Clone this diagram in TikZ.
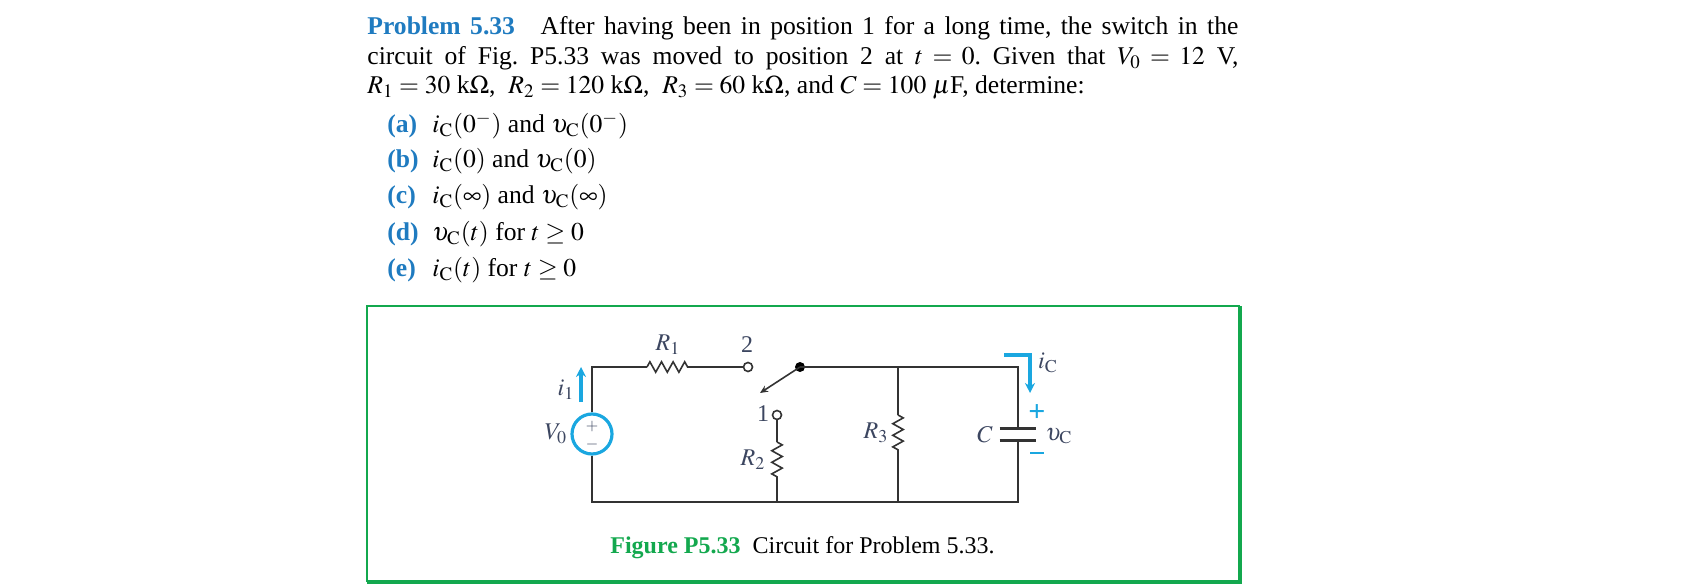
\documentclass[tikz,border=0pt]{standalone}
\usepackage{mathptmx}
\usepackage{fontspec}
\setmainfont{Liberation Serif}
\frenchspacing
\usetikzlibrary{decorations.pathmorphing}
\usetikzlibrary{arrows.meta}

\definecolor{probblue}{HTML}{1F7BC0}
\definecolor{figgreen}{HTML}{13A84E}
\definecolor{srccyan}{HTML}{1AA7E0}
\definecolor{wiregray}{HTML}{333333}
\definecolor{labelink}{HTML}{3C4660}

\tikzset{
  wire/.style={draw=wiregray, line width=0.8pt},
  resistor/.style={wire, decorate, decoration={zigzag, segment length=5.8pt, amplitude=2.6pt}},
  terminal/.style={circle, draw=wiregray, line width=0.8pt, fill=white, inner sep=0pt, minimum size=4.5pt},
  txtline/.style={anchor=base west, inner sep=0pt, font=\fontsize{12.8}{15}\selectfont},
  lbl/.style={inner sep=1pt, text=labelink, font=\fontsize{12}{14}\selectfont},
  polarity/.style={inner sep=0pt, text=srccyan, font=\bfseries\fontsize{15}{15}\selectfont},
  cyanarrow/.style={draw=srccyan, line width=1.6pt, -{Stealth[length=5pt,width=5pt]}},
}

\begin{document}
\begin{tikzpicture}[x=0.5pt, y=-0.5pt]
  \useasboundingbox (0,0) rectangle (1706,588);
  % problem text
  \node[txtline] (l1) at (367,35) {\makebox[435.5pt][s]{\textcolor{probblue}{\textbf{Problem 5.33}}\quad After having been in position 1 for a long time, the switch in the}};
  \node[txtline] (l2) at (367,65) {\makebox[435.5pt][s]{circuit of Fig. P5.33 was moved to position 2 at $t=0$. Given that $V_0=12$ V,}};
  \node[txtline] (l3) at (367,94) {$R_1=30$ k$\Omega$, \ $R_2=120$ k$\Omega$, \ $R_3=60$ k$\Omega$, and $C=100$ $\mu$F, determine:};
  \foreach \y/\lab/\txt in {133/a/{$i_{\mathrm{C}}(0^-)$ and $\upsilon_{\mathrm{C}}(0^-)$},
                            168/b/{$i_{\mathrm{C}}(0)$ and $\upsilon_{\mathrm{C}}(0)$},
                            204/c/{$i_{\mathrm{C}}(\infty)$ and $\upsilon_{\mathrm{C}}(\infty)$},
                            241/d/{$\upsilon_{\mathrm{C}}(t)$ for $t\geq 0$},
                            277/e/{$i_{\mathrm{C}}(t)$ for $t\geq 0$}} {
    \node[txtline, text=probblue] (item\lab) at (387,\y) {\textbf{(\lab)}};
    \node[txtline] (itemtxt\lab) at (432,\y) {\txt};
  }

  % figure frame
  \draw[figgreen, line width=1pt] (1240,306) -- (367,306) -- (367,582);
  \draw[figgreen, line width=1.6pt] (367,582) -- (1240,582) -- (1240,306);

  % circuit corners
  \coordinate (tl) at (592,367);
  \coordinate (bl) at (592,502);
  \coordinate (r1a) at (647,367);
  \coordinate (r1b) at (688,367);
  \coordinate (piv) at (800,367);
  \coordinate (tr3) at (898,367);
  \coordinate (tc) at (1018,367);
  \coordinate (r3a) at (898,415);
  \coordinate (r3b) at (898,453);
  \coordinate (br3) at (898,502);
  \coordinate (r2a) at (777,442);
  \coordinate (r2b) at (777,480);
  \coordinate (br2) at (777,502);
  \coordinate (bc) at (1018,502);
  \coordinate (armend) at (760,393);

  \node[circle, draw=srccyan, line width=1.6pt, minimum size=20pt, inner sep=0pt] (src) at (592,434) {};
  \node[inner sep=0pt, text=labelink, font=\fontsize{8}{9}\selectfont] at (592,426) {$+$};
  \node[inner sep=0pt, text=labelink, font=\fontsize{8}{9}\selectfont] at (592,444) {$-$};
  \node[terminal] (t2) at (748,367) {};
  \node[terminal] (t1) at (777,415) {};
  \node[circle, fill=black, inner sep=0pt, minimum size=5pt] (pdot) at (piv) {};
  \node[minimum width=18pt, minimum height=5.5pt, inner sep=0pt] (cap) at (1018,434.5) {};

  % wires
  \draw[wire] (src.north) -- (tl) -- (r1a);
  \draw[resistor] (r1a) -- (r1b);
  \draw[wire] (r1b) -- (t2.west);
  \draw[wire, -{Stealth[length=4pt,width=3.5pt]}] (pdot.center) -- (armend);
  \draw[wire] (pdot.center) -- (tc) -- (cap.north);
  \draw[wire] (tr3) -- (r3a);
  \draw[resistor] (r3a) -- (r3b);
  \draw[wire] (r3b) -- (br3);
  \draw[wire] (t1.south) -- (r2a);
  \draw[resistor] (r2a) -- (r2b);
  \draw[wire] (r2b) -- (br2);
  \draw[wire] (src.south) -- (bl) -- (bc) -- (cap.south);
  \draw[wire, line width=1.2pt] (cap.north west) -- (cap.north east);
  \draw[wire, line width=1.2pt] (cap.south west) -- (cap.south east);

  % currents
  \draw[cyanarrow] (581,402) -- (581,367);
  \draw[cyanarrow] (1004,355) -- (1030,355) -- (1030,393);

  % labels
  \node[lbl] at (668,345) {$R_1$};
  \node[lbl] at (747,345) {2};
  \node[lbl] at (763,414) {1};
  \node[lbl] at (753,460) {$R_2$};
  \node[lbl] at (876,433) {$R_3$};
  \node[lbl] at (985,435) {$C$};
  \node[lbl] at (1059,436) {$\upsilon_{\mathrm{C}}$};
  \node[lbl] at (1048,363) {$i_{\mathrm{C}}$};
  \node[lbl] at (566,390) {$i_1$};
  \node[lbl] at (556,434) {$V_0$};
  \node[polarity] at (1037,413) {+};
  \node[polarity] at (1037,455) {\rule[0.3ex]{0.45em}{1.4pt}};

  % caption
  \node[txtline, font=\fontsize{12}{14}\selectfont] (capt) at (610,553) {\textcolor{figgreen}{\textbf{Figure P5.33}}\enspace Circuit for Problem 5.33.};
\end{tikzpicture}
\end{document}
